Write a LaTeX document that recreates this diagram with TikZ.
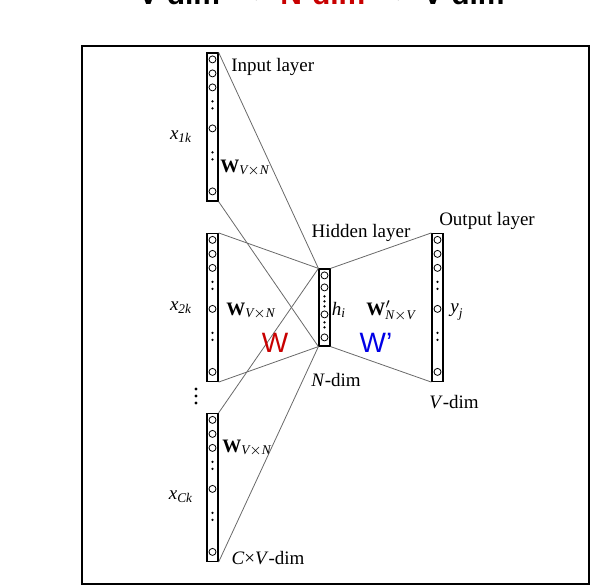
\documentclass[tikz,border=0pt]{standalone}
\usepackage{amsmath}
\usepackage{fontspec}
\setmainfont{Liberation Serif}
\newfontfamily\titlefont{Liberation Sans}
\newfontfamily\arrowfont{DejaVu Sans}
\definecolor{wred}{RGB}{200,0,0}
\definecolor{wblue}{RGB}{0,0,230}
\definecolor{wiregray}{RGB}{105,105,105}
\begin{document}
\begin{tikzpicture}[x=0.5pt,y=-0.5pt,
  layer/.style = {draw, line width=0.6pt, minimum width=5.5pt, inner sep=0pt},
  tallcol/.style = {layer, minimum height=74pt},
  shortcol/.style = {layer, minimum height=38.5pt},
  unit/.style = {draw, circle, line width=0.4pt, minimum size=3.5pt, inner sep=0pt},
  dot/.style = {fill, circle, minimum size=1.3pt, inner sep=0pt},
  lbl/.style = {font=\fontsize{9.5}{11}\selectfont, inner sep=1pt},
  wire/.style = {draw=wiregray, line width=0.4pt},
  big/.style = {font=\titlefont\bfseries\fontsize{15}{17}\selectfont, inner sep=0pt},
  tag/.style = {font=\titlefont\fontsize{14}{16}\selectfont, inner sep=0pt}]
\useasboundingbox (0,0) rectangle (610,588);
\draw[line width=1pt] (82,46) rectangle (589,584);
% title, cut at the top edge
\node[big, anchor=base west] (t1) at (138,5) {V-dim};
\node[big, anchor=base east] (a1) at (264,4) {\arrowfont\bfseries →};
\node[big, anchor=base west, text=wred] (t2) at (280,5) {N-dim};
\node[big, anchor=base east] (a2) at (406,4) {\arrowfont\bfseries →};
\node[big, anchor=base east] (t3) at (505,5) {V-dim};
% layers
\node[tallcol] (in1) at (212.5,127) {};
\node[tallcol] (in2) at (212.5,307.5) {};
\node[tallcol] (in3) at (212.5,487.5) {};
\node[shortcol] (hid) at (324.5,307.5) {};
\node[tallcol] (out) at (437.5,307.5) {};
% units
\foreach \c in {in1,in2,in3,out} {
  \foreach \o in {7,21,35,76,139}
    \node[unit] (\c-u\o) at ([yshift=-\o*0.5pt]\c.north) {};
  \foreach \o in {49,56,100,107}
    \node[dot] (\c-d\o) at ([yshift=-\o*0.5pt]\c.north) {};
}
\foreach \o in {7,19,46,69}
  \node[unit] (hid-u\o) at ([yshift=-\o*0.5pt]hid.north) {};
\foreach \o in {28,33,38,54,59}
  \node[dot] (hid-d\o) at ([yshift=-\o*0.5pt]hid.north) {};
\foreach \o in {389,396,403}
  \node[dot, minimum size=1.6pt] (gap\o) at (196,\o) {};
% weights
\foreach \c in {in1,in2,in3} {
  \draw[wire] (\c.north east) -- (hid.north west);
  \draw[wire] (\c.south east) -- (hid.south west);
}
\draw[wire] (hid.north east) -- (out.north west);
\draw[wire] (hid.south east) -- (out.south west);
% labels
\node[lbl, anchor=west] (inlbl) at (229,67) {Input layer};
\node[lbl] (hidlbl) at (361,233) {Hidden layer};
\node[lbl] (outlbl) at (487,221) {Output layer};
\node[lbl] (x1) at (181,137) {$\textit{x}_{\textit{1k}}$};
\node[lbl] (x2) at (181,308) {$\textit{x}_{\textit{2k}}$};
\node[lbl] (x3) at (181,497) {$\textit{x}_{\textit{Ck}}$};
\node[lbl] (w1) at (245,168) {$\textbf{W}_{\textit{V}\times\textit{N}}$};
\node[lbl] (w2) at (251,311) {$\textbf{W}_{\textit{V}\times\textit{N}}$};
\node[lbl] (w3) at (247,448) {$\textbf{W}_{\textit{V}\times\textit{N}}$};
\node[lbl] (hi) at (339,310) {$\textit{h}_{\textit{i}}$};
\node[lbl] (wout) at (391,311) {$\textbf{W}'_{\textit{N}\times\textit{V}}$};
\node[lbl] (yj) at (457,312) {$\textit{y}_{\textit{j}}$};
\node[lbl] (ndim) at (336,380) {\textit{N}-dim};
\node[lbl] (vdim) at (454,402) {\textit{V}-dim};
\node[lbl] (cvdim) at (268,558) {\textit{C}×\textit{V}-dim};
\node[tag, text=wred] (wtag) at (275,343) {W};
\node[tag, text=wblue] (wptag) at (376,343) {W’};
\end{tikzpicture}
\end{document}
